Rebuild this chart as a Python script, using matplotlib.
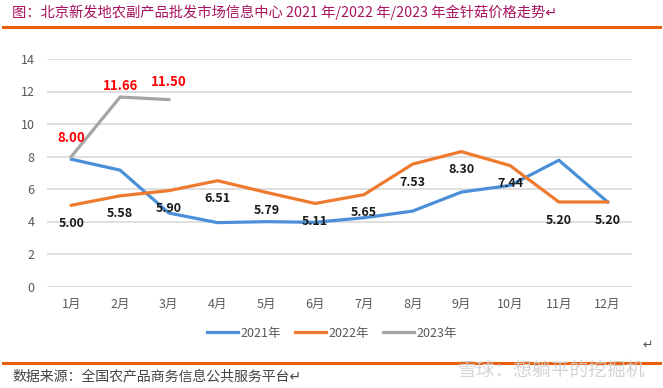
import numpy as np
import matplotlib.pyplot as plt

plt.rcParams['font.family'] = ['Noto Sans CJK SC', 'DejaVu Sans']

months = ['1月', '2月', '3月', '4月', '5月', '6月', '7月', '8月', '9月', '10月', '11月', '12月']
price_2021 = [7.83, 7.16, 4.52, 3.93, 3.99, 3.95, 4.23, 4.64, 5.81, 6.22, 7.77, 5.20]
price_2022 = [5.00, 5.58, 5.90, 6.51, 5.79, 5.11, 5.65, 7.53, 8.30, 7.44, 5.20, 5.20]
price_2023 = [8.00, 11.66, 11.50]

c21 = '#4A8FD7'
c22 = '#EE7A2E'
c23 = '#A5A5A5'
accent = '#EB5E0B'

fig = plt.figure(figsize=(6.63, 3.88), dpi=100)
ax = fig.add_axes([47 / 663, 1 - 286.5 / 388, 585 / 663, 227.5 / 388])

x = np.arange(len(months))
ax.plot(x, price_2021, color=c21, lw=2.3, label='2021年', solid_joinstyle='round')
ax.plot(x, price_2022, color=c22, lw=2.3, label='2022年', solid_joinstyle='round')
ax.plot(x[:len(price_2023)], price_2023, color=c23, lw=2.3, label='2023年',
        solid_joinstyle='round')

for xi, v in zip(x, price_2022):
    ax.annotate(f'{v:.2f}', (xi, v), xytext=(0, -13), textcoords='offset points',
                ha='center', va='center', fontsize=9, fontweight='bold', color='#1a1a1a')

offs_2023 = [13, 8, 13]
for xi, v, o in zip(x, price_2023, offs_2023):
    ax.annotate(f'{v:.2f}', (xi, v), xytext=(0, o), textcoords='offset points',
                ha='center', va='center', fontsize=9.5, fontweight='bold', color='#FF0000')

ax.set_xlim(-0.5, 11.5)
ax.set_ylim(0, 14)
ax.set_yticks(range(0, 15, 2))
ax.set_xticks(x)
ax.set_xticklabels(months)
ax.yaxis.grid(True, color='#D9D9D9', lw=1.2)
ax.set_axisbelow(True)
for s in ax.spines.values():
    s.set_visible(False)
ax.tick_params(length=0, labelsize=9, colors='#595959', pad=8)
ax.tick_params(axis='y', pad=9)

fig.legend(loc='center', bbox_to_anchor=(332 / 663, 1 - 333 / 388), ncol=3, frameon=False,
           fontsize=9, labelcolor='#595959', handlelength=2.5, handletextpad=0.2,
           columnspacing=1.1)

# header / footer decorations
fig.add_artist(plt.Line2D([3 / 663, 660 / 663], [1 - 26.5 / 388] * 2, color=accent, lw=2.2))
fig.add_artist(plt.Line2D([3 / 663, 660 / 663], [1 - 362.5 / 388] * 2, color=accent, lw=2.2))
fig.text(12 / 663, 1 - 12 / 388, '图：北京新发地农副产品批发市场信息中心 2021 年/2022 年/2023 年金针菇价格走势↵',
         fontsize=10.3, color='#A8145F', va='center', ha='left')
fig.text(12 / 663, 1 - 376 / 388, '数据来源：全国农产品商务信息公共服务平台↵',
         fontsize=10, color='#444444', va='center', ha='left')
fig.text(648 / 663, 1 - 345 / 388, '↵', fontsize=9, color='#555555', va='center', ha='center')
fig.text(458 / 663, 1 - 370 / 388, '雪球：想躺平的挖掘机', fontsize=13.5, color='#CFCFCF',
         va='center', ha='left', alpha=0.9)

fig.savefig('out.png', dpi=100)
